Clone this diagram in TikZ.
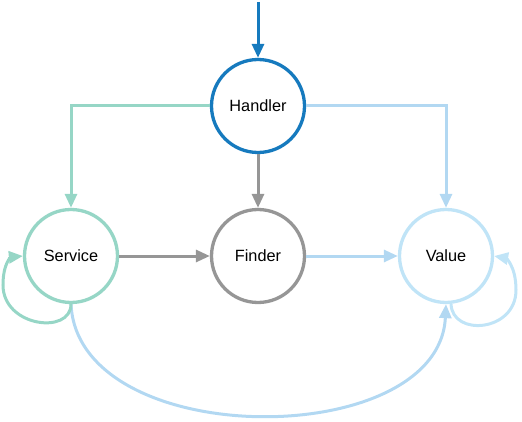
\documentclass[tikz,border=0pt]{standalone}
\usepackage{fontspec}
\setmainfont{Liberation Sans}
\usetikzlibrary{arrows.meta}
\definecolor{hblue}{RGB}{22,122,190}
\definecolor{tealc}{RGB}{150,214,198}
\definecolor{grayc}{RGB}{150,150,150}
\definecolor{lblue}{RGB}{178,216,242}
\definecolor{vblue}{RGB}{192,228,247}
\begin{document}
\begin{tikzpicture}[x=1pt,y=-1pt,
  state/.style={circle, draw, line width=3.3pt, minimum size=93pt, inner sep=0pt,
    font=\fontsize{16.3}{19}\selectfont, fill=white},
  edge/.style={line width=3pt, -{Triangle[length=14pt,width=12pt]}}]
\useasboundingbox (0,0) rectangle (522,422);
\node[state, draw=hblue] (h) at (258,106) {Handler};
\node[state, draw=tealc] (s) at (71,256) {Service};
\node[state, draw=grayc] (f) at (258,256) {Finder};
\node[state, draw=vblue] (v) at (446,256) {Value};
\coordinate (top) at (258,2);
\draw[edge, hblue] (top) -- (h);
\draw[edge, tealc] (h.west) -| (s.north);
\draw[edge, lblue] (h.east) -| (v.north);
\draw[edge, grayc] (h) -- (f);
\draw[edge, grayc] (s) -- (f);
\draw[edge, lblue] (f) -- (v);
\draw[edge, lblue] (s.south) .. controls (78,452) and (439,452) .. (v.south);
\draw[edge, tealc] (s.south) .. controls (71,335) and (3,327) .. (3,285) .. controls (3,262) and (12,257) .. (s.west);
\draw[edge, vblue] (v.-84) .. controls (452,337) and (516,332) .. (516,290) .. controls (516,265) and (505,258) .. (v.east);
\end{tikzpicture}
\end{document}
